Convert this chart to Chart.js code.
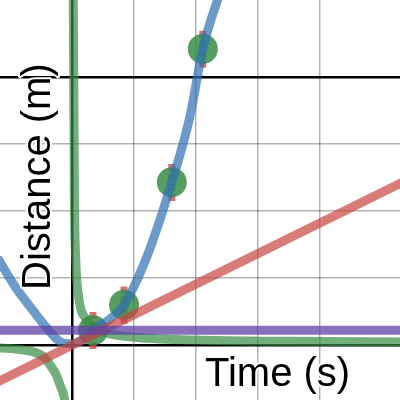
<!DOCTYPE html>
<html><head><style>html,body{margin:0;padding:0;background:#fff}#c{width:400px;height:400px}</style>
<script src="https://cdn.jsdelivr.net/npm/chart.js@4"></script></head>
<body><div id="c"><canvas id="cv" width="400" height="400"></canvas></div>
<script>
const xLabel = "Time (s)";
const yLabel = "Distance (m)";
const dataX = [0.34, 0.84, 1.61, 2.11];
const dataY = [0.22, 0.60, 2.43, 4.42];
const errHalf = 0.28;
const blueX = [-1.2, -0.9, -0.63, -0.4, -0.19, 0, 0.2, 0.34, 0.6, 0.84, 1.2, 1.61, 1.9, 2.11, 2.4];
const blueY = [1.30, 0.85, 0.52, 0.25, 0.05, 0.02, 0.1, 0.22, 0.38, 0.60, 1.3, 2.43, 3.4, 4.42, 5.3];
const redX = [-1.2, 5.4];
const redY = [-0.55, 2.46];
const purpleX = [-1.2, 5.4];
const purpleY = [0.22, 0.22];
const greenUpX = [0.02, 0.03, 0.04, 0.06, 0.1, 0.24, 0.5, 0.98, 2, 3.5, 5.4];
const greenUpY = [5.3, 3.8, 2.2, 1.3, 0.78, 0.37, 0.2, 0.12, 0.075, 0.055, 0.045];
const greenLoX = [-1.2, -0.9, -0.63, -0.45, -0.35, -0.25, -0.19, -0.14, -0.11];
const greenLoY = [-0.04, -0.06, -0.1, -0.18, -0.3, -0.45, -0.6, -0.72, -0.85];

const zip = (xs, ys) => xs.map((x, i) => ({x, y: ys[i]}));
const line = (pts, color, w) => ({type: 'line', data: pts, borderColor: color, borderWidth: w, pointRadius: 0, fill: false, cubicInterpolationMode: 'monotone'});
const errSets = dataX.map((x, i) => ({type: 'line', data: [{x, y: dataY[i] - errHalf}, {x, y: dataY[i] + errHalf}],
  borderColor: 'rgba(199,68,64,0.75)', borderWidth: 7, borderDash: [7, 3], pointRadius: 0, fill: false}));

const labelPlugin = {
  id: 'labels',
  afterDatasetsDraw(chart) {
    const ctx = chart.ctx;
    ctx.save();
    ctx.font = '40px "Liberation Sans", Arial, sans-serif';
    ctx.fillStyle = '#000';
    ctx.strokeStyle = '#fff'; ctx.lineWidth = 4; ctx.lineJoin = 'round';
    ctx.textBaseline = 'alphabetic';
    ctx.strokeText(xLabel, 205, 386); ctx.fillText(xLabel, 205, 386);
    ctx.translate(50, 290); ctx.rotate(-Math.PI / 2);
    ctx.strokeText(yLabel, 0, 0); ctx.fillText(yLabel, 0, 0);
    ctx.restore();
  }
};
const gridColor = (v, bold) => bold.includes(v) ? '#000' : 'rgba(0,0,0,0.3)';
const gridW = (v, bold) => bold.includes(v) ? 2.5 : 1.5;
const intTicks = s => { s.ticks = s.ticks.filter(t => Math.abs(t.value - Math.round(t.value)) < 1e-6); };

new Chart(document.getElementById('cv'), {
  type: 'scatter',
  data: { datasets: [
    line(zip(purpleX, purpleY), 'rgba(96,66,166,0.75)', 9),
    line(zip(redX, redY), 'rgba(199,68,64,0.7)', 9),
    line(zip(greenUpX, greenUpY), 'rgba(56,140,70,0.7)', 9),
    line(zip(greenLoX, greenLoY), 'rgba(56,140,70,0.7)', 9),
    line(zip(blueX, blueY), 'rgba(45,112,179,0.7)', 9),
    {type: 'scatter', data: zip(dataX, dataY), pointRadius: 15, pointHoverRadius: 15, backgroundColor: 'rgba(56,140,70,0.85)', borderWidth: 0},
    ...errSets
  ]},
  options: {
    responsive: false, animation: false, devicePixelRatio: 1,
    layout: {padding: 0, autoPadding: false},
    plugins: {legend: {display: false}, tooltip: {enabled: false}},
    scales: {
      x: {type: 'linear', min: -1.16, max: 5.29, ticks: {display: false, stepSize: 1}, border: {display: false},
          afterBuildTicks: intTicks,
          grid: {drawTicks: false, tickLength: 0, color: c => gridColor(c.tick.value, [0, 5]), lineWidth: c => gridW(c.tick.value, [0, 5])}},
      y: {type: 'linear', min: -0.82, max: 5.15, ticks: {display: false, stepSize: 1}, border: {display: false},
          afterBuildTicks: intTicks,
          grid: {drawTicks: false, tickLength: 0, color: c => gridColor(c.tick.value, [0, 4]), lineWidth: c => gridW(c.tick.value, [0, 4])}}
    }
  },
  plugins: [labelPlugin]
});
</script></body></html>
